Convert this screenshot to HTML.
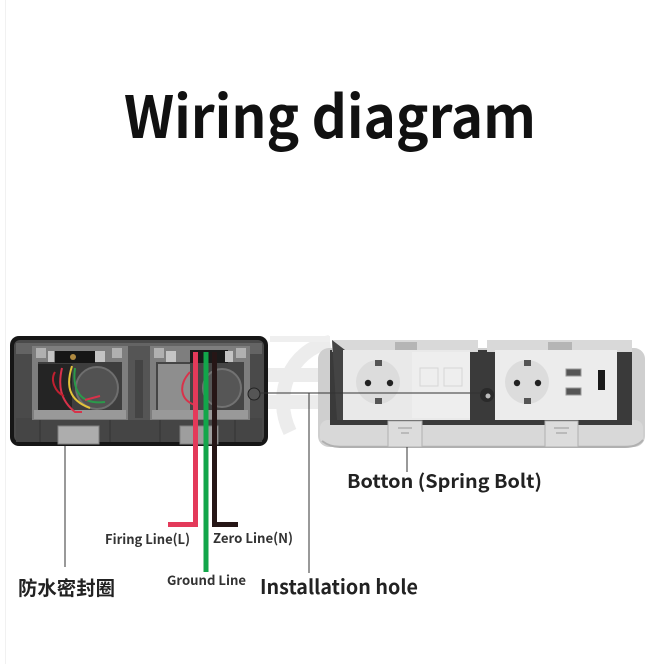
<!DOCTYPE html>
<html><head><meta charset="utf-8"><style>
html,body{margin:0;padding:0;background:#fff;}
svg{display:block;}
text{font-family:"Liberation Sans","Noto Sans CJK SC",sans-serif;}
.n{font-family:"Noto Sans CJK SC","Liberation Sans",sans-serif;}
</style></head><body>
<svg width="650" height="664" viewBox="0 0 650 664" xmlns="http://www.w3.org/2000/svg">
<rect width="650" height="664" fill="#fff"/>
<line x1="5.5" y1="0" x2="5.5" y2="664" stroke="#f1f1f1" stroke-width="1"/>

<!-- Title -->
<text class="n" x="330" y="138" text-anchor="middle" font-size="58" font-weight="700" fill="#111" textLength="412" lengthAdjust="spacingAndGlyphs">Wiring diagram</text>

<!-- watermark -->
<g fill="none" stroke="#ebebeb" stroke-width="14" opacity="0.9">
<path d="M330 342 C 290 350, 272 395, 290 432"/>
<path d="M250 375 L 330 375"/>
<path d="M250 402 L 330 402"/>
</g>
<rect x="270" y="336" width="60" height="6" fill="#efefef"/>

<!-- LEFT DEVICE -->
<rect x="10" y="336" width="258" height="110" rx="9" fill="#161616"/>
<rect x="14" y="340" width="250" height="102" rx="6" fill="#4a4a4a"/>
<rect x="16" y="343" width="246" height="11" fill="#646464"/>
<rect x="16" y="418" width="246" height="24" fill="#454545"/>
<g stroke="#333" stroke-width="1">
<line x1="40" y1="420" x2="40" y2="442"/><line x1="110" y1="420" x2="110" y2="442"/>
<line x1="160" y1="420" x2="160" y2="442"/><line x1="235" y1="420" x2="235" y2="442"/>
</g>
<!-- left module -->
<path d="M32 346 L128 346 L128 420 L32 420 Z" fill="#7e7e7e"/>
<path d="M38 362 L122 362 L122 414 L38 414 Z" fill="#3e3e3e"/>
<rect x="38" y="364" width="34" height="46" fill="#242424"/>
<circle cx="97" cy="388" r="21" fill="#525252" stroke="#6e6e6e" stroke-width="2"/>
<rect x="34" y="410" width="92" height="9" fill="#999"/>
<rect x="55" y="351" width="40" height="12" fill="#161616"/>
<circle cx="73" cy="357" r="3" fill="#b08a40"/>
<rect x="36" y="348" width="10" height="10" fill="#b0b0b0"/><rect x="112" y="348" width="10" height="10" fill="#b0b0b0"/>
<rect x="95" y="351" width="10" height="11" fill="#c4c4c4"/><rect x="48" y="351" width="6" height="11" fill="#c4c4c4"/>
<g fill="none" stroke-width="2">
<path d="M62 368 C 58 385, 60 400, 75 412 L 82 412" stroke="#d8324a"/>
<path d="M72 366 C 66 385, 68 400, 90 408" stroke="#e2c23a"/>
<path d="M75 368 C 72 390, 80 405, 105 402" stroke="#2a9a4a"/>
<path d="M55 372 C 50 380, 55 392, 64 396" stroke="#c02030"/>
<path d="M85 400 L 100 396" stroke="#d8324a"/>
</g>
<!-- divider -->
<rect x="128" y="346" width="22" height="74" fill="#555"/>
<rect x="135" y="360" width="8" height="58" fill="#444"/>
<!-- right module -->
<path d="M150 346 L250 346 L250 420 L150 420 Z" fill="#7e7e7e"/>
<rect x="156" y="362" width="88" height="52" fill="#454545"/>
<rect x="158" y="364" width="32" height="46" fill="#8e8e8e"/>
<circle cx="222" cy="388" r="19" fill="#565656" stroke="#727272" stroke-width="2"/>
<rect x="152" y="410" width="96" height="9" fill="#999"/>
<rect x="190" y="350" width="38" height="13" fill="#1a1a1a"/>
<rect x="154" y="348" width="10" height="10" fill="#b0b0b0"/><rect x="236" y="348" width="10" height="10" fill="#b0b0b0"/>
<rect x="166" y="351" width="10" height="11" fill="#c4c4c4"/><rect x="225" y="351" width="8" height="11" fill="#c4c4c4"/>
<path d="M190 372 C 178 385, 180 400, 195 405" fill="none" stroke="#d8324a" stroke-width="2"/>
<!-- clips -->
<rect x="58" y="426" width="41" height="18" fill="#adadad" stroke="#808080" stroke-width="1"/>
<rect x="180" y="426" width="38" height="18" fill="#9e9e9e" stroke="#808080" stroke-width="1"/>
<!-- hole circle left -->
<circle cx="254" cy="394" r="6" fill="#555" stroke="#222" stroke-width="1"/>

<!-- wires -->
<path d="M168 524.5 L195.5 524.5 L195.5 352" fill="none" stroke="#e33a5a" stroke-width="5"/>
<path d="M206 352 L206 572" fill="none" stroke="#12a64a" stroke-width="5"/>
<path d="M238 524.5 L214.5 524.5 L214.5 352" fill="none" stroke="#261616" stroke-width="5"/>

<!-- RIGHT DEVICE -->
<rect x="318" y="348" width="327" height="99" rx="11" fill="#cfcfcf"/>
<rect x="320" y="420" width="323" height="25" rx="8" fill="#d8d8d8"/>
<path d="M322 441 Q 330 447 340 447 L 625 447 Q 637 447 643 440" fill="none" stroke="#b0b0b0" stroke-width="2"/>
<!-- dark cavity -->
<rect x="330" y="350" width="302" height="75" fill="#3a3a3a"/>
<!-- left lid -->
<path d="M332 340 L478 340 L478 352 L332 352 Z" fill="#d9d9d9"/>
<path d="M332 340 L345 350 L345 420 L337 420 Z" fill="#444"/>
<rect x="395" y="342" width="22" height="8" fill="#b5b5b5"/>
<rect x="343" y="350" width="127" height="70" fill="#e9e9e9"/>
<rect x="412" y="352" width="58" height="66" fill="#eeeeee"/>
<rect x="420" y="368" width="18" height="18" fill="none" stroke="#d6d6d6"/>
<rect x="444" y="368" width="18" height="18" fill="none" stroke="#d6d6d6"/>
<circle cx="378" cy="382" r="22" fill="#dcdcdc"/>
<circle cx="368" cy="383" r="3.2" fill="#222"/>
<circle cx="390" cy="383" r="3.2" fill="#222"/>
<rect x="375" y="360" width="7" height="6" fill="#555"/>
<rect x="375" y="398" width="7" height="6" fill="#555"/>
<!-- right lid -->
<path d="M487 340 L632 340 L632 352 L487 352 Z" fill="#d9d9d9"/>
<rect x="548" y="342" width="24" height="8" fill="#b5b5b5"/>
<rect x="495" y="350" width="122" height="70" fill="#ececec"/>
<circle cx="527" cy="382" r="22" fill="#dcdcdc"/>
<circle cx="517" cy="383" r="3.2" fill="#222"/>
<circle cx="538" cy="383" r="3.2" fill="#222"/>
<rect x="524" y="360" width="7" height="6" fill="#555"/>
<rect x="524" y="398" width="7" height="6" fill="#555"/>
<rect x="566" y="369" width="15" height="7" fill="#555" stroke="#999"/>
<rect x="566" y="388" width="15" height="7" fill="#555" stroke="#999"/>
<rect x="598" y="370" width="7" height="20" fill="#1a1a1a"/>
<!-- hole circle right -->
<circle cx="487" cy="395" r="7" fill="#2a2a2a"/>
<circle cx="488" cy="396" r="2.5" fill="#bbb"/>
<!-- buttons -->
<rect x="388" y="421" width="34" height="26" fill="#dcdcdc" stroke="#b0b0b0"/>
<line x1="398" y1="428" x2="412" y2="428" stroke="#999"/><line x1="401" y1="433" x2="409" y2="433" stroke="#999"/>
<rect x="545" y="421" width="33" height="26" fill="#dcdcdc" stroke="#b0b0b0"/>
<line x1="554" y1="428" x2="569" y2="428" stroke="#999"/><line x1="556" y1="433" x2="567" y2="433" stroke="#999"/>

<!-- leader lines -->
<g stroke="#333" stroke-width="1" fill="none">
<line x1="65" y1="446" x2="65" y2="567"/>
<line x1="260" y1="393" x2="481" y2="393"/>
<line x1="309" y1="393" x2="309" y2="573"/>
<line x1="407" y1="447" x2="407" y2="472"/>
</g>

<!-- labels -->
<text class="n" x="347" y="488" font-size="19" font-weight="700" fill="#222" textLength="195" lengthAdjust="spacingAndGlyphs">Botton (Spring Bolt)</text>
<text class="n" x="105" y="544" font-size="13.5" font-weight="700" fill="#333" textLength="85" lengthAdjust="spacingAndGlyphs">Firing Line(L)</text>
<text class="n" x="213" y="543" font-size="13.5" font-weight="700" fill="#333" textLength="80" lengthAdjust="spacingAndGlyphs">Zero Line(N)</text>
<text class="n" x="167" y="585" font-size="13" font-weight="700" fill="#333" textLength="79" lengthAdjust="spacingAndGlyphs">Ground Line</text>
<text class="n" x="18" y="595" font-size="19.5" font-weight="700" fill="#222" textLength="97" lengthAdjust="spacingAndGlyphs">防水密封圈</text>
<text class="n" x="260" y="594" font-size="20" font-weight="700" fill="#222" textLength="158" lengthAdjust="spacingAndGlyphs">Installation hole</text>
</svg>
</body></html>
